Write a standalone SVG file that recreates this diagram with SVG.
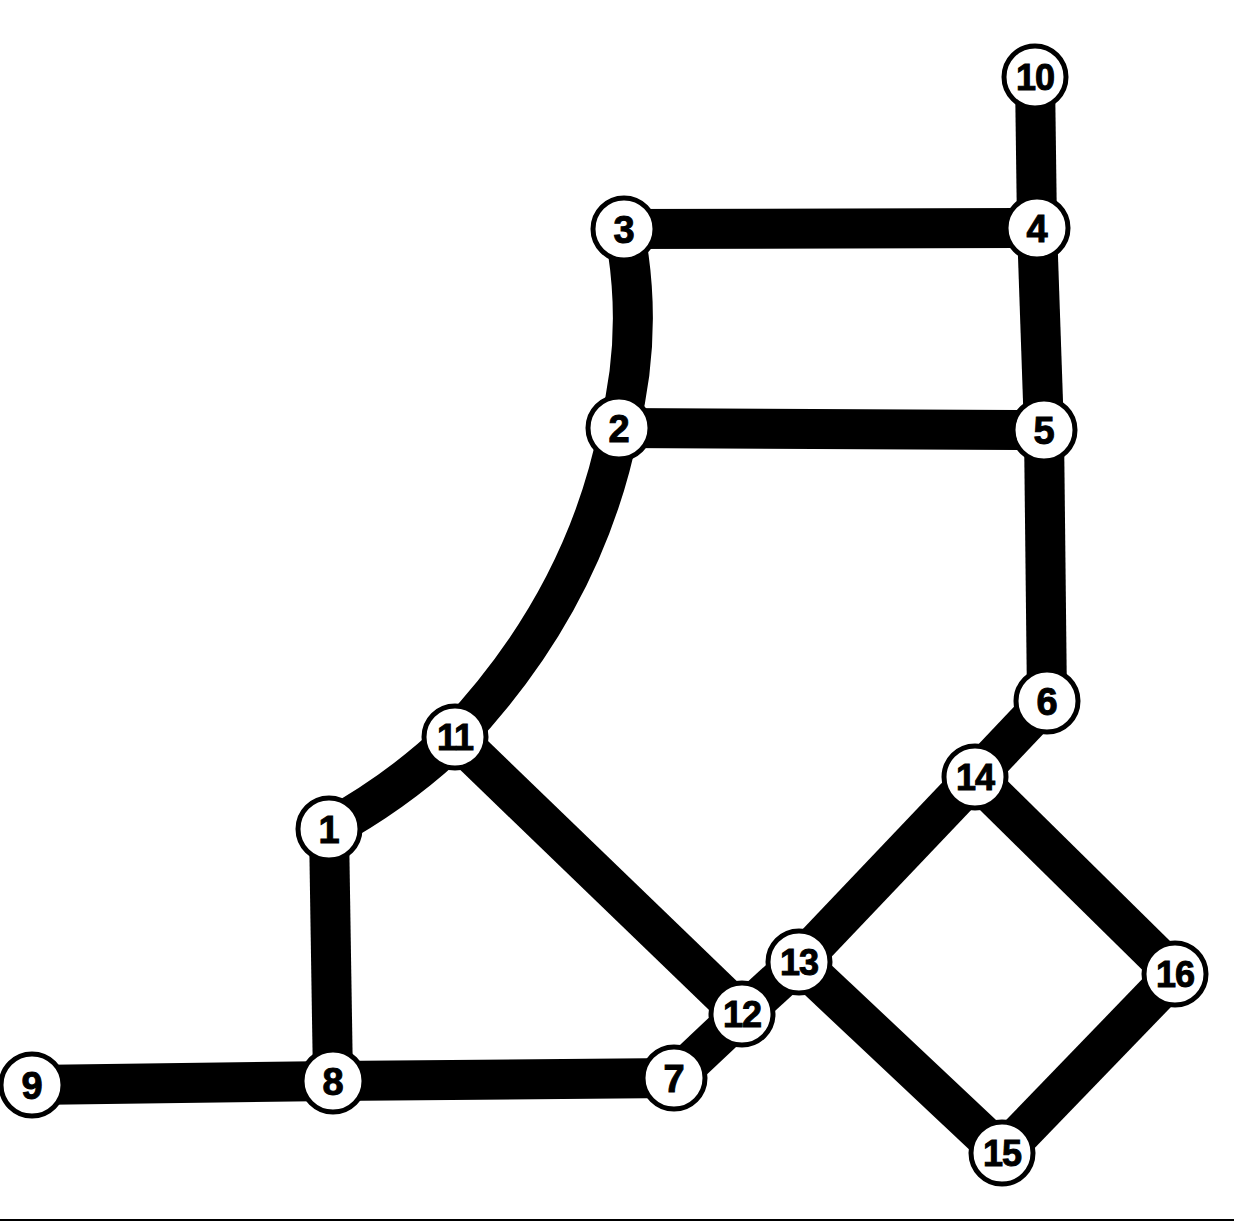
<svg xmlns="http://www.w3.org/2000/svg" width="1234" height="1223" viewBox="0 0 1234 1223">
<style>
.e{fill:none;stroke:#000;stroke-width:40;stroke-linecap:butt}
.n circle{fill:#fff;stroke:#000;stroke-width:5}
.n text{font-family:"Liberation Sans",Arial,sans-serif;font-weight:bold;font-size:38px;text-anchor:middle;fill:#000;stroke:#000;stroke-width:1}
.n text.d{letter-spacing:-1px;font-size:36px}
</style>
<rect width="1234" height="1223" fill="#fff"/>
<g id="connectors">
<path class="e" d="M1035,77 L1037,228"/>
<path class="e" d="M624,229 L1037,228"/>
<path class="e" d="M1037,228 L1044,430"/>
<path class="e" d="M624,229 Q644,330 619,428"/>
<path class="e" d="M619,428 L1044,430"/>
<path class="e" d="M1044,430 L1047,701"/>
<path class="e" d="M1047,701 L975,777"/>
<path class="e" d="M619,428 Q585,600 455,737"/>
<path class="e" d="M455,737 Q400,790 329,829"/>
<path class="e" d="M329,829 L333,1081"/>
<path class="e" d="M32,1085 L333,1081"/>
<path class="e" d="M333,1081 L674,1078"/>
<path class="e" d="M674,1078 L742,1014"/>
<path class="e" d="M742,1014 L799,962"/>
<path class="e" d="M455,737 L742,1014"/>
<path class="e" d="M799,962 L975,777"/>
<path class="e" d="M975,777 L1175,974"/>
<path class="e" d="M1175,974 L1002,1153"/>
<path class="e" d="M1002,1153 L799,962"/>
</g>
<line x1="0" y1="1220" x2="1234" y2="1220" stroke="#000" stroke-width="2"/>
<g id="n10" class="n"><circle cx="1035" cy="77" r="31"/><text class="d" x="1035" y="90">10</text></g>
<g id="n4" class="n"><circle cx="1037" cy="228" r="31"/><text x="1037" y="242">4</text></g>
<g id="n3" class="n"><circle cx="624" cy="229" r="31"/><text x="624" y="243">3</text></g>
<g id="n2" class="n"><circle cx="619" cy="428" r="31"/><text x="619" y="442">2</text></g>
<g id="n5" class="n"><circle cx="1044" cy="430" r="31"/><text x="1044" y="444">5</text></g>
<g id="n6" class="n"><circle cx="1047" cy="701" r="31"/><text x="1047" y="715">6</text></g>
<g id="n14" class="n"><circle cx="975" cy="777" r="31"/><text class="d" x="975" y="790">14</text></g>
<g id="n11" class="n"><circle cx="455" cy="737" r="31"/><text class="d" x="455" y="750">11</text></g>
<g id="n1" class="n"><circle cx="329" cy="829" r="31"/><text x="329" y="843">1</text></g>
<g id="n8" class="n"><circle cx="333" cy="1081" r="31"/><text x="333" y="1095">8</text></g>
<g id="n9" class="n"><circle cx="32" cy="1085" r="31"/><text x="32" y="1099">9</text></g>
<g id="n7" class="n"><circle cx="674" cy="1078" r="31"/><text x="674" y="1092">7</text></g>
<g id="n12" class="n"><circle cx="742" cy="1014" r="31"/><text class="d" x="742" y="1027">12</text></g>
<g id="n13" class="n"><circle cx="799" cy="962" r="31"/><text class="d" x="799" y="975">13</text></g>
<g id="n16" class="n"><circle cx="1175" cy="974" r="31"/><text class="d" x="1175" y="987">16</text></g>
<g id="n15" class="n"><circle cx="1002" cy="1153" r="31"/><text class="d" x="1002" y="1166">15</text></g>
</svg>
